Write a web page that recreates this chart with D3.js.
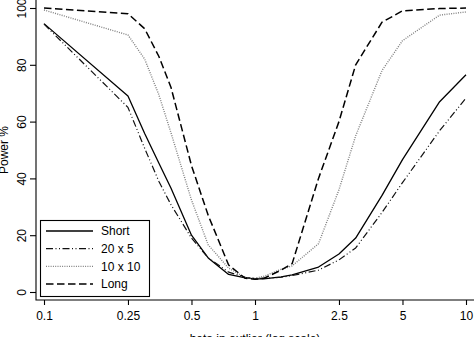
<!DOCTYPE html>
<html>
<head>
<meta charset="utf-8">
<script src="https://cdn.jsdelivr.net/npm/d3@7/dist/d3.min.js"></script>
<style>
    html, body { margin: 0; padding: 0; background: #fff; }
    svg { display: block; font-family: "Liberation Sans", Arial, Helvetica, sans-serif; }
</style>
</head>
<body>
<div id="display"></div>
<script>
// Outlier size (beta) on a log axis
const betaValues = [0.1, 0.25, 0.3, 0.35, 0.4, 0.5, 0.6, 0.75, 0.9, 1, 1.1, 1.33, 1.5, 2, 2.5, 3, 4, 5, 7.5, 10];

// Power (%) per design
const powerShort = [94.5, 69, 55.8, 45.4, 36.5, 20, 12, 6.2, 5, 4.6, 4.6, 5.3, 6, 8.8, 13.4, 19, 34, 46.6, 67, 76.5];
const power20x5 = [94.3, 65, 50.6, 39, 30.7, 19, 12, 7, 5.2, 4.8, 4.8, 5.2, 5.8, 7.7, 11.3, 15.5, 28, 38.5, 56.8, 68.3];
const power10x10 = [99.3, 90.5, 82, 69.5, 56, 32.4, 16.6, 8.4, 5, 4.8, 5.5, 8, 9.2, 17, 36, 55, 78, 88.5, 97.5, 98.6];
const powerLong = [100, 98, 92.7, 83, 72, 44.5, 27, 9.5, 4.8, 4.5, 4.8, 7.7, 10, 40, 60, 80, 95, 99, 99.8, 100];

const seriesNames = ["Short", "20 x 5", "10 x 10", "Long"];
const xTickValues = [0.1, 0.25, 0.5, 1, 2.5, 5, 10];
const xTickLabels = ["0.1", "0.25", "0.5", "1", "2.5", "5", "10"];
const yTickValues = [0, 20, 40, 60, 80, 100];

let renderParams = {
    width: 474,
    height: 337,
    plotLeft: 36,
    plotBottom: 300
};

// Line look per series, same order as seriesNames
let style = [
    { stroke: "#000", width: 1.3, dash: null },
    { stroke: "#111", width: 1.2, dash: "7,2.5,1,2.5,1,2.5" },
    { stroke: "#808080", width: 1.4, dash: "1,1.3" },
    { stroke: "#000", width: 1.5, dash: "7.5,3.5" }
];

let x = d3.scaleLog().domain([0.1, 10]).range([44, 466]);
let y = d3.scaleLinear().domain([0, 100]).range([292, 8]);

function draw() {
    const svg = d3.select("div#display").append("svg")
        .attr("width", renderParams.width)
        .attr("height", renderParams.height);

    const series = [powerShort, power20x5, power10x10, powerLong];

    // Curves
    const line = d3.line()
        .x(d => x(d[0]))
        .y(d => y(d[1]));

    series.forEach((values, i) => {
        svg.append("path")
            .datum(betaValues.map((b, j) => [b, values[j]]))
            .attr("d", line)
            .attr("fill", "none")
            .attr("stroke", style[i].stroke)
            .attr("stroke-width", style[i].width)
            .attr("stroke-dasharray", style[i].dash)
            .attr("stroke-linejoin", "round");
    });

    // L-shaped frame
    svg.append("path")
        .attr("d", `M${renderParams.plotLeft},-5V${renderParams.plotBottom}H${renderParams.width + 5}`)
        .attr("fill", "none")
        .attr("stroke", "#000")
        .attr("stroke-width", 1.1);

    // X axis
    const xAxis = svg.append("g")
        .attr("transform", `translate(0,${renderParams.plotBottom})`)
        .call(d3.axisBottom(x)
            .tickValues(xTickValues)
            .tickFormat((d, i) => xTickLabels[i])
            .tickSize(5)
            .tickPadding(6));
    xAxis.select(".domain").remove();
    xAxis.selectAll("line").attr("stroke-width", 1.1);
    xAxis.selectAll("text").attr("font-size", 12).attr("font-family", null).attr("fill", "#000");

    // Y axis, labels parallel to the axis
    const yAxis = svg.append("g")
        .attr("transform", `translate(${renderParams.plotLeft},0)`)
        .call(d3.axisLeft(y).tickValues(yTickValues).tickSize(6));
    yAxis.select(".domain").remove();
    yAxis.selectAll("line").attr("stroke-width", 1.1);
    yAxis.selectAll("text")
        .attr("font-size", 12)
        .attr("font-family", null)
        .attr("fill", "#000")
        .attr("x", null).attr("dy", null)
        .attr("text-anchor", "middle")
        .attr("transform", "translate(-10,0) rotate(-90)");

    // Axis titles
    svg.append("text")
        .attr("x", 255).attr("y", 343)
        .attr("text-anchor", "middle")
        .attr("font-size", 12)
        .text("beta in outlier (log scale)");

    svg.append("text")
        .attr("transform", "translate(8,150) rotate(-90)")
        .attr("text-anchor", "middle")
        .attr("font-size", 12)
        .text("Power %");

    // Legend
    const legend = svg.append("g");
    legend.append("rect")
        .attr("x", 40.5).attr("y", 220.5)
        .attr("width", 109).attr("height", 76)
        .attr("fill", "#fff")
        .attr("stroke", "#000")
        .attr("stroke-width", 1.1);

    seriesNames.forEach((name, i) => {
        const ly = 231 + i * 17.7;
        legend.append("line")
            .attr("x1", 46).attr("x2", 93)
            .attr("y1", ly).attr("y2", ly)
            .attr("stroke", style[i].stroke)
            .attr("stroke-width", style[i].width)
            .attr("stroke-dasharray", style[i].dash);
        legend.append("text")
            .attr("x", 101).attr("y", ly)
            .attr("dy", "0.36em")
            .attr("font-size", 12)
            .text(name);
    });
}

draw();
</script>
</body>
</html>
